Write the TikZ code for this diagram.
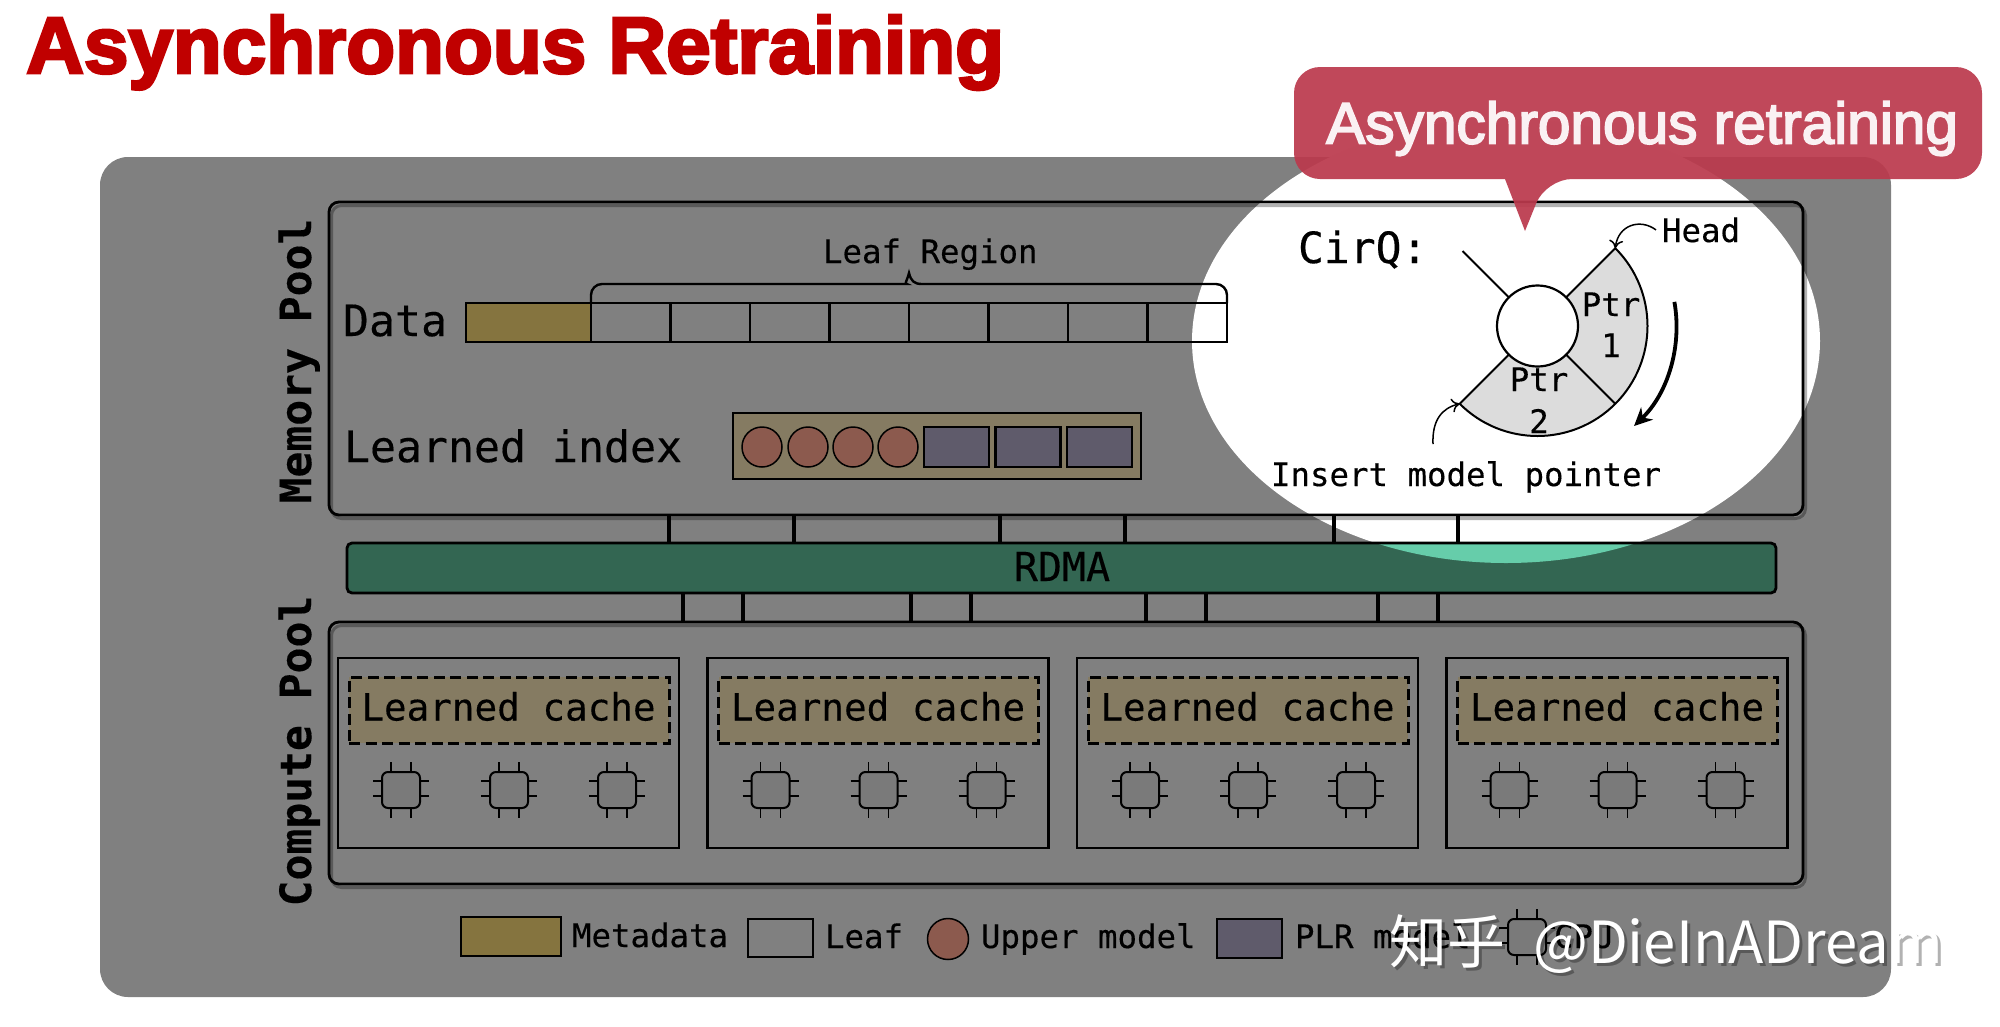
\documentclass[tikz,border=0pt]{standalone}
\usepackage{fontspec}
\setmainfont{Liberation Sans}
\setmonofont[FakeBold=0.3]{DejaVu Sans Mono}
\newfontfamily\cjk{Noto Sans CJK SC}
\newfontfamily\titlefont[FakeBold=3.5]{Liberation Sans Bold}
\newfontfamily\bubblefont[FakeBold=3]{Liberation Sans}
\usetikzlibrary{arrows.meta,calc}

\definecolor{dimgrey}{HTML}{808080}
\definecolor{metagold}{HTML}{85743F}
\definecolor{tanfill}{HTML}{857B62}
\definecolor{uppermodel}{HTML}{8C5A4E}
\definecolor{plrmodel}{HTML}{5F5B6B}
\definecolor{rdmadark}{HTML}{336652}
\definecolor{rdmabright}{HTML}{66CDAA}
\definecolor{chipgrey}{HTML}{7A7A7A}
\definecolor{ptrgrey}{HTML}{DCDCDC}
\definecolor{bubblered}{HTML}{BB3A4D}
\definecolor{titlered}{HTML}{C00000}

\begin{document}
\begin{tikzpicture}[x=1pt, y=-1pt,
  txt/.style = {inner sep=0pt, outer sep=0pt, anchor=base west, font=\ttfamily\fontsize{32.4}{36}\selectfont},
  big/.style = {txt, font=\ttfamily\fontsize{43.2}{50}\selectfont},
  pool/.style = {inner sep=0pt, anchor=base, rotate=90, font=\ttfamily\bfseries\fontsize{43}{50}\selectfont},
  frame/.style = {draw, line width=2.8pt, rounded corners=10pt, anchor=north west, inner sep=0pt, outer sep=0pt,
                  preaction={draw=black, draw opacity=.3, line width=3pt, transform canvas={shift={(2.5pt,-3.5pt)}}}},
  cell/.style = {draw, line width=2.4pt, anchor=north west, inner sep=0pt, outer sep=0pt},
  upper/.style = {circle, draw, line width=1.5pt, fill=uppermodel, minimum size=40pt, inner sep=0pt, outer sep=0pt},
  plr/.style = {cell, fill=plrmodel, minimum width=65pt, minimum height=40pt},
  link/.style = {line width=3.5pt},
  curly/.style = {line width=1.5pt, -{To[length=8pt,width=14pt]}},
  chip/.pic = {
    \foreach \d in {-10,10} {
      \draw[line width=1.5pt] (\d,-28) -- (\d,28);
    }
    \foreach \d in {-9,6} {
      \draw[line width=1.5pt] (-28,\d) -- (28,\d);
    }
    \node[draw, line width=2pt, fill=chipgrey, rounded corners=6pt, minimum width=38pt,
          minimum height=36pt, inner sep=0pt] (-body) {};
  },
  ]
  \useasboundingbox (0,0) rectangle (2000,1026);

  \node[inner sep=0pt, anchor=base west, text=titlered, font=\titlefont\fontsize{80}{90}\selectfont] (title) at (26,73) {Asynchronous Retraining};

  \fill[dimgrey, rounded corners=28pt] (100,157) rectangle (1891,997);
  \fill[white] (1506,341) ellipse [x radius=314pt, y radius=222pt];

  \node[frame, minimum width=1474pt, minimum height=313pt] (memorypool) at (329,202) {};
  \node[frame, minimum width=1474pt, minimum height=262pt] (computepool) at (329,622) {};
  \node[pool] (memorylabel) at (311,361) {Memory Pool};
  \node[pool] (computelabel) at (311,751) {Compute Pool};

  \node[big] (datalabel) at (343,336) {Data};
  \node[cell, fill=metagold, minimum width=125pt, minimum height=39pt] (metadata) at (466,303) {};
  \foreach \i in {1,...,8} {
    \node[cell, minimum width=79.5pt, minimum height=39pt] (leaf\i) at (591+79.5*\i-79.5,303) {};
  }
  \coordinate (bracetip) at (909,273);
  \draw[line width=2.4pt, rounded corners=11pt] (leaf1.north west) |- (896,284)
    [sharp corners] .. controls (904,284) and (907,281) .. (bracetip) .. controls (911,281) and (914,284) .. (922,284)
    [rounded corners=11pt] -| (leaf8.north east);
  \node[txt] (leaflabel) at (823,263) {Leaf Region};

  \node[big] (indexlabel) at (344,462) {Learned index};
  \node[cell, fill=tanfill, minimum width=408pt, minimum height=66pt] (indexbox) at (733,413) {};
  \foreach \i/\x in {1/762,2/808,3/853,4/898} {
    \node[upper] (upper\i) at (\x,447) {};
  }
  \foreach \i/\x in {1/924,2/995.5,3/1067} {
    \node[plr] (plr\i) at (\x,427) {};
  }

  \fill[rdmadark, rounded corners=5pt] (347,543) rectangle (1776,593);
  \begin{scope}
    \clip (1506,341) ellipse [x radius=314pt, y radius=222pt];
    \fill[rdmabright] (347,543) rectangle (1776,593);
  \end{scope}
  \node[draw, line width=2.8pt, rounded corners=5pt, minimum width=1429pt, minimum height=50pt, inner sep=0pt, outer sep=0pt,
        anchor=north west] (rdma) at (347,543) {};
  \node[inner sep=0pt, anchor=base, font=\ttfamily\fontsize{40}{46}\selectfont] (rdmalabel) at (1062,581) {RDMA};

  \foreach \x in {669,794,1000,1125,1334,1458} {
    \draw[link] (memorypool.south -| \x,0) -- (rdma.north -| \x,0);
  }
  \foreach \x in {683,743,911,971,1146,1206,1378,1438} {
    \draw[link] (rdma.south -| \x,0) -- (computepool.north -| \x,0);
  }

  \foreach \k in {0,...,3} {
    \node[cell, line width=2.8pt, minimum width=341pt, minimum height=190pt] (server\k) at (338+369.5*\k,658) {};
    \node[cell, line width=3pt, fill=tanfill, dash pattern=on 11pt off 5.5pt, minimum width=320pt, minimum height=66pt] (cache\k) at (349+369.5*\k,677) {};
    \node[inner sep=0pt, anchor=base, font=\ttfamily\fontsize{37.6}{42}\selectfont] (cachetext\k) at (508.5+369.5*\k,720.5) {Learned cache};
    \foreach \j in {0,1,2} {
      \pic (cpu\k\j) at (401+369.5*\k+108*\j,790) {chip};
    }
  }

  \node[cell, line width=2.8pt, fill=metagold, minimum width=100pt, minimum height=39pt] (keymeta) at (461,917) {};
  \node[txt] (keymetatext) at (572,947) {Metadata};
  \node[cell, minimum width=65pt, minimum height=38pt] (keyleaf) at (748,919) {};
  \node[txt] (keyleaftext) at (825,948) {Leaf};
  \node[upper, minimum size=41pt] (keyupper) at (948,939) {};
  \node[txt] (keyuppertext) at (981,948) {Upper model};
  \node[cell, line width=2.8pt, fill=plrmodel, minimum width=65pt, minimum height=39pt] (keyplr) at (1217,919) {};
  \node[txt] (keyplrtext) at (1295,948) {PLR model};
  \pic (keychip) at (1527,937) {chip};
  \node[txt] (keycputext) at (1554,948) {CPU};

  \coordinate (ringc) at (1537.5,326);
  \coordinate (ptrend) at ($(ringc)+(135:106pt)$);
  \coordinate (ptrhead) at ($(ringc)+(45:110pt)$);
  \coordinate (ptrtail) at ($(ringc)+(-135:110pt)$);
  \coordinate (ptrsplit) at ($(ringc)+(-45:110pt)$);
  \draw[fill=ptrgrey, line width=2pt] (ringc) -- (ptrhead) arc [start angle=45, end angle=-135, radius=110pt] -- cycle;
  \draw[line width=2pt] (ringc) -- (ptrsplit);
  \draw[line width=2pt] (ringc) -- (ptrend);
  \node[circle, draw, fill=white, line width=2.2pt, minimum size=81pt, inner sep=0pt] (ringhub) at (ringc) {};
  \node[txt, anchor=base] (ptrone) at (1611,316) {Ptr};
  \node[txt, anchor=base] (ptronenum) at (1611,357) {1};
  \node[txt, anchor=base] (ptrtwo) at (1539,391) {Ptr};
  \node[txt, anchor=base] (ptrtwonum) at (1539,433) {2};
  \node[txt, font=\ttfamily\fontsize{43}{50}\selectfont] (cirqlabel) at (1298,263) {CirQ:};
  \node[txt] (headlabel) at (1662,242) {Head};
  \node[txt] (insertlabel) at (1271,486) {Insert model pointer};
  \coordinate (spinstart) at ($(ringc)+(10:139pt)$);
  \draw[line width=3.8pt, -{Stealth[length=18pt,width=17pt]}] (spinstart) arc [start angle=10, end angle=-46, radius=139pt];
  \draw[curly] ($(headlabel.west)+(-6,0)$) .. controls (1640,218) and (1618,225) .. (ptrhead);
  \coordinate (insertstart) at (1433,444);
  \draw[curly] (insertstart) .. controls (1432,420) and (1442,408) .. (ptrtail);

  \fill[bubblered, fill opacity=.93] (1294,120) [rounded corners=26pt] |- (1982,67) |- (1546,179)
    [sharp corners] -- (1525,231) -- (1505,179) [rounded corners=26pt] -| (1294,120) [sharp corners] -- cycle;
  \node[inner sep=0pt, anchor=base west, text=white!93!bubblered, font=\bubblefont\fontsize{58.6}{66}\selectfont] (bubbletext) at (1326,143.6) {Asynchronous retraining};

  \node[inner sep=0pt, anchor=base west, text=black, text opacity=.3, font=\cjk\fontsize{58}{66}\selectfont] (markshadow) at (1392,966) {知乎\hspace{28pt}@DieInADream};
  \node[inner sep=0pt, anchor=base west, text=white, font=\cjk\fontsize{58}{66}\selectfont] (mark) at (1389,963) {知乎\hspace{28pt}@DieInADream};
\end{tikzpicture}
\end{document}
